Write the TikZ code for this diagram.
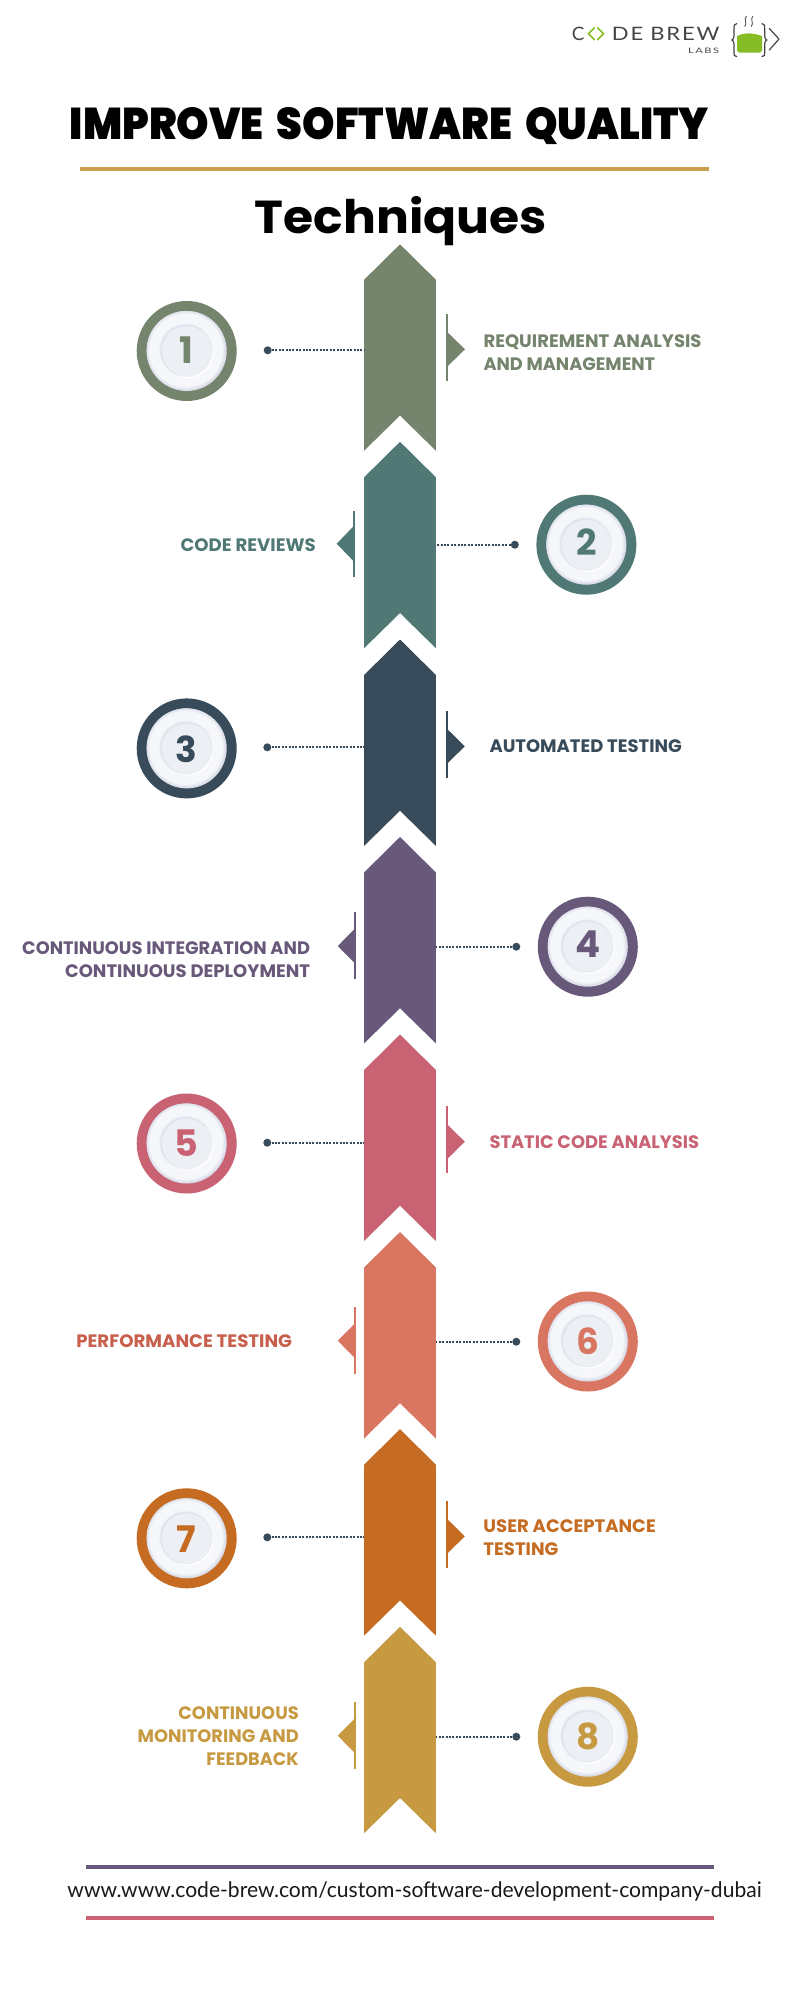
\documentclass[tikz,border=0pt]{standalone}
\usepackage{fontspec}
\usepackage{graphicx}
\setmainfont{Poppins}[BoldFont={Poppins Bold}]
\newfontfamily\blk{Poppins Black}
\newfontfamily\urlf{Lato}
\definecolor{cA}{HTML}{75846D}
\definecolor{cB}{HTML}{507976}
\definecolor{cC}{HTML}{384B5A}
\definecolor{cD}{HTML}{68587A}
\definecolor{cE}{HTML}{C96374}
\definecolor{cF}{HTML}{D97662}
\definecolor{cG}{HTML}{C56C22}
\definecolor{cH}{HTML}{C79A42}
\definecolor{cFt}{HTML}{C85F4C}
\definecolor{gold}{HTML}{C99F4D}
\definecolor{logogrey}{HTML}{454545}
\definecolor{logogreen}{HTML}{86BC25}
\definecolor{discshadow}{HTML}{DADCE9}
\definecolor{disclight}{HTML}{F6F7FA}
\definecolor{discface}{HTML}{ECEFF4}
\newcommand{\fw}[2]{\resizebox{#1pt}{\height}{#2}}
\newcommand{\lblfont}{\fontsize{18pt}{23pt}\selectfont\bfseries}
\newcommand{\lleft}[1]{\vtop{\baselineskip=23pt\lineskiplimit=-10pt\halign{##\hfil\cr#1\crcr}}}
\newcommand{\lright}[1]{\vtop{\baselineskip=23pt\lineskiplimit=-10pt\halign{\hfil##\cr#1\crcr}}}
\tikzset{
  lbl/.style={inner sep=0pt,text=#1,font=\lblfont},
  rule/.style={inner sep=0pt,minimum height=4pt,fill=#1},
  ribbon/.style={inner sep=0pt,minimum width=71.4pt,minimum height=206pt},
  disc/.style={circle,inner sep=0pt,minimum size=100pt,fill=#1},
  enddot/.style={circle,inner sep=0pt,minimum size=8pt,fill=cC},
  leader/.style={draw=cC,line width=2pt,dash pattern=on 2pt off 1.4pt},
  logoline/.style={draw=logogrey,line width=1.2pt,line cap=round,line join=round},
}
\begin{document}
\begin{tikzpicture}[x=1pt,y=-1pt]
\useasboundingbox[fill=white] (0,0) rectangle (800,2000);
% logo
\node[inner sep=0,anchor=base west,text=logogrey] (logoC) at (571.7,40) {\resizebox{12.6pt}{\height}{\fontsize{18.5pt}{20pt}\selectfont\urlf C}};
\node[inner sep=0,anchor=base west,text=logogrey] (logoT) at (611.7,40) {\resizebox{107.6pt}{\height}{\fontsize{18.5pt}{20pt}\selectfont\urlf D\kern1.5pt E\kern6pt B\kern1.5pt R\kern1.5pt E\kern1.5pt W}};
\node[inner sep=0,anchor=base west,text=logogrey] (logoL) at (688,53) {\resizebox{31pt}{\height}{\fontsize{7.5pt}{8pt}\selectfont\urlf L\kern1pt A\kern1pt B\kern1pt S}};
\draw[draw=logogreen,line width=1.6pt,line join=miter] (594.6,27.5) -- (588.6,33.7) -- (594.6,40);
\draw[draw=logogreen,line width=1.6pt,line join=miter] (597.4,27.5) -- (603.4,33.7) -- (597.4,40);
\fill[logogreen] (737,36) .. controls (743,33) and (750,33) .. (755,34) .. controls (758,35) and (760,35) .. (762,36) -- (762,50.5) -- (760,52.7) -- (739,52.7) -- (737,50.5) -- cycle;
\draw[logoline] (736.7,23.6) .. controls (733.7,23.6) and (734,26) .. (734,29) -- (734,36) .. controls (734,38.5) and (733,39.5) .. (731.8,40) .. controls (733,40.5) and (734,41.5) .. (734,44) -- (734,52) .. controls (734,55) and (733.7,56.6) .. (736.7,56.6);
\draw[logoline] (762,23.6) .. controls (765,23.6) and (764.7,26) .. (764.7,29) -- (764.7,36) .. controls (764.7,38.5) and (765.7,39.5) .. (766.9,40) .. controls (765.7,40.5) and (764.7,41.5) .. (764.7,44) -- (764.7,52) .. controls (764.7,55) and (765,56.6) .. (762,56.6);
\draw[logoline] (769.3,28.5) -- (779,39) -- (769.3,50);
\draw[draw=logogrey,line width=.8pt] (746.5,16.2) .. controls (743,19) and (748,23) .. (744.7,26.6);
\draw[draw=logogrey,line width=.8pt] (753,16.2) .. controls (749.5,19) and (754.5,23) .. (751.2,26.6);
% titles
\node[inner sep=0,anchor=base] (title) at (389.5,139) {\resizebox{639pt}{32pt}{\blk IMPROVE\kern1.5pt\ SOFTWARE\kern1.5pt\ QUALITY}};
\node[rule=gold,minimum width=628.7pt] (titlerule) at (394.4,169) {};
\node[inner sep=0,anchor=base] (subtitle) at (401,233) {\resizebox{292pt}{37pt}{\bfseries Techniques}};
% ribbons
\foreach \n/\col/\tip in {1/cA/244.5,2/cB/442,3/cC/639.7,4/cD/837.2,5/cE/1034.7,6/cF/1232.2,7/cG/1429.4,8/cH/1627}{
  \node[ribbon] (a\n) at (400,\tip+103) {};
  \fill[\col] (a\n.north) -- ([yshift=-35.5pt]a\n.north east) -- (a\n.south east) -- ([yshift=35.2pt]a\n.south) -- (a\n.south west) -- ([yshift=-35.5pt]a\n.north west) -- cycle;
}
% numbered discs, end dots, leaders, callout marks
\foreach \n/\col/\cx/\cy/\dx/\dy/\base/\tx/\ty/\px/\py in {
  1/cA/186.7/351/267.7/350.3/363.3/447/347.3/465/349.3,
  2/cB/586.4/544.7/514.8/544.7/555/353.6/544/336.7/543.7,
  3/cC/186.7/748.4/267.3/747.3/762.7/447/744.7/464.8/746.3,
  4/cD/587.8/946.7/516.3/946.7/957.7/355/945.7/337.8/946,
  5/cE/186.7/1143.5/267.3/1142.7/1156/447/1139.7/464.8/1141.7,
  6/cF/587.8/1341.5/516.3/1341.7/1354/355/1340.7/337.8/1340.7,
  7/cG/186.7/1538.3/267.3/1537.3/1552.7/447/1534.7/464.8/1536.3,
  8/cH/587.8/1736.7/516.3/1736.7/1749/355/1735.7/337.8/1735.7}{
  \node[disc=\col] (c\n) at (\cx,\cy) {};
  \fill[discshadow] (c\n.center) circle (40);
  \foreach \r/\p in {39.6/85,39/70,38.4/50,37.8/35,37.2/18,36.6/0}{
    \fill[discshadow!\p!disclight] ([shift={(-.5,-.5)}]c\n.center) circle (\r);
  }
  \fill[white] ([shift={(.9,.9)}]c\n.center) circle (26.2);
  \foreach \r/\p in {27/12,26.5/30,26/55,25.5/80}{
    \fill[discshadow!\p!disclight,opacity=.8] ([shift={(-.8,-.8)}]c\n.center) circle (\r);
  }
  \fill[discface] (c\n.center) circle (24.8);
  \node[inner sep=0,anchor=base,text=\col] (num\n) at (\cx,\base) {\resizebox{!}{26.7pt}{\bfseries \n}};
  \node[enddot] (d\n) at (\dx,\dy) {};
  \coordinate (e\n) at (d\n -| a\n.east);
  \ifodd\n\relax \coordinate (e\n) at (d\n -| a\n.west); \fi
  \draw[leader] (d\n) -- (e\n);
  \draw[\col,line width=1.8pt] (\tx,\ty-33.3) -- (\tx,\ty+33.3);
  \fill[\col] (\tx,\py-17.5) -- (\px,\py) -- (\tx,\py+17.5) -- cycle;
}
% labels
\node[lbl=cA,anchor=base west] (t1) at (483.3,347) {\lleft{\fw{218}{REQUIREMENT ANALYSIS}\cr\fw{171.7}{AND MANAGEMENT}}};
\node[lbl=cB,anchor=base east] (t2) at (316,551) {\fw{135.2}{CODE REVIEWS}};
\node[lbl=cC,anchor=base west] (t3) at (489.3,752.7) {\fw{192.3}{AUTOMATED TESTING}};
\node[lbl=cD,anchor=base east] (t4) at (310.2,954) {\lright{\fw{287.8}{CONTINUOUS INTEGRATION AND}\cr\fw{244.9}{CONTINUOUS DEPLOYMENT}}};
\node[lbl=cE,anchor=base west] (t5) at (489.3,1148.7) {\fw{209.7}{STATIC CODE ANALYSIS}};
\node[lbl=cFt,anchor=base east] (t6) at (292.3,1347.7) {\fw{215.8}{PERFORMANCE TESTING}};
\node[lbl=cG,anchor=base west] (t7) at (483.2,1532.7) {\lleft{\fw{172.4}{USER ACCEPTANCE}\cr\fw{75}{TESTING}}};
\node[lbl=cH,anchor=base east] (t8) at (299,1719.7) {\lright{\fw{120.4}{CONTINUOUS}\cr\fw{161.2}{MONITORING AND}\cr\fw{92.4}{FEEDBACK}}};
% footer
\node[rule=cD,minimum width=628.3pt] (ruleA) at (399.9,1867) {};
\node[inner sep=0,anchor=base,text=black!90] (url) at (414.5,1897) {\resizebox{694pt}{\height}{\fontsize{21.5pt}{24pt}\selectfont\urlf www.www.code-brew.com/custom-software-development-company-dubai}};
\node[rule=cE,minimum width=628.3pt] (ruleB) at (399.9,1918) {};
\end{tikzpicture}
\end{document}
